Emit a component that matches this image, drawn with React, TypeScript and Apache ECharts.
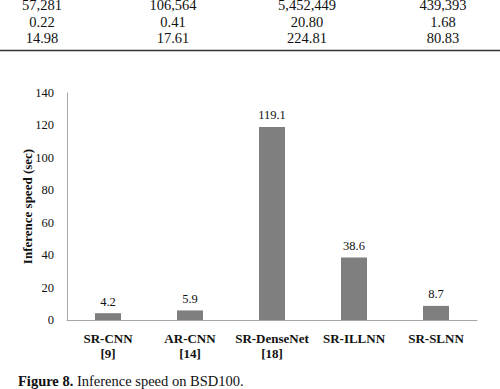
import React, { useEffect, useRef } from "react";
import * as echarts from "echarts";

const categories = ["SR-CNN", "AR-CNN", "SR-DenseNet", "SR-ILLNN", "SR-SLNN"];
const refs = ["[9]", "[14]", "[18]", "", ""];
const values = [4.2, 5.9, 119.1, 38.6, 8.7];
const yTicks = { min: 0, max: 140, interval: 20 };
const tableRows = [
  ["57,281", "106,564", "5,452,449", "439,393"],
  ["0.22", "0.41", "20.80", "1.68"],
  ["14.98", "17.61", "224.81", "80.83"],
];
const tableColX = [42, 173, 307, 443];
const tableRowY = [5, 21.5, 38];
const captionBold = "Figure 8.";
const captionText = " Inference speed on BSD100.";
const axisTitle = "Inference speed (sec)";

const FAM = "Liberation Serif";

export default function App() {
  const ref = useRef<HTMLDivElement>(null);
  useEffect(() => {
    if (!ref.current) return;
    const chart = echarts.init(ref.current, undefined, { renderer: "svg" });
    const graphics: any[] = [];
    tableRows.forEach((row, ri) => {
      row.forEach((cell, ci) => {
        graphics.push({
          type: "text",
          x: tableColX[ci],
          y: tableRowY[ri],
          style: {
            text: cell,
            fontFamily: FAM,
            fontSize: 14.5,
            fill: "#111",
            align: "center",
            verticalAlign: "middle",
          },
        });
      });
    });
    graphics.push({
      type: "line",
      shape: { x1: 0, y1: 50.5, x2: 500, y2: 50.5 },
      style: { stroke: "#333", lineWidth: 1.5 },
    });
    graphics.push({
      type: "text",
      x: 18,
      y: 381,
      style: {
        text: `{b|${captionBold}}{n|${captionText}}`,
        rich: {
          b: { fontFamily: FAM, fontWeight: "bold", fontSize: 14.5, fill: "#111" },
          n: { fontFamily: FAM, fontSize: 14.5, fill: "#111" },
        },
        verticalAlign: "middle",
      },
    });

    chart.setOption({
      animation: false,
      textStyle: { fontFamily: FAM },
      grid: { left: 67, right: 23, top: 93, bottom: 69, containLabel: false },
      xAxis: {
        type: "category",
        data: categories.map((c, i) => (refs[i] ? `${c}\n${refs[i]}` : c)),
        axisLine: { lineStyle: { color: "#a6a6a6", width: 1 } },
        axisTick: { show: false },
        axisLabel: {
          interval: 0,
          margin: 11,
          color: "#111",
          fontFamily: FAM,
          fontWeight: "bold",
          fontSize: 13,
          lineHeight: 15,
        },
      },
      yAxis: {
        type: "value",
        min: yTicks.min,
        max: yTicks.max,
        interval: yTicks.interval,
        name: axisTitle,
        nameLocation: "middle",
        nameGap: 33,
        nameMoveOverlap: false,
        nameTextStyle: {
          fontFamily: FAM,
          fontWeight: "bold",
          fontSize: 13,
          color: "#111",
        },
        axisLine: { show: true, lineStyle: { color: "#a6a6a6", width: 1 } },
        axisTick: { show: false },
        splitLine: { show: false },
        axisLabel: { color: "#111", fontFamily: FAM, fontSize: 12.5, margin: 13 },
      },
      series: [
        {
          type: "bar",
          data: values,
          barWidth: 26,
          itemStyle: { color: "#7f7f7f" },
          label: {
            show: true,
            position: "top",
            distance: 5,
            color: "#111",
            fontFamily: FAM,
            fontSize: 12.5,
            formatter: (p: any) => p.value.toFixed(1),
          },
        },
      ],
      graphic: graphics,
    });
    return () => chart.dispose();
  }, []);
  return (
    <div
      ref={ref}
      style={{ position: "absolute", left: 0, top: 0, width: 500, height: 389, background: "#fff" }}
    />
  );
}
